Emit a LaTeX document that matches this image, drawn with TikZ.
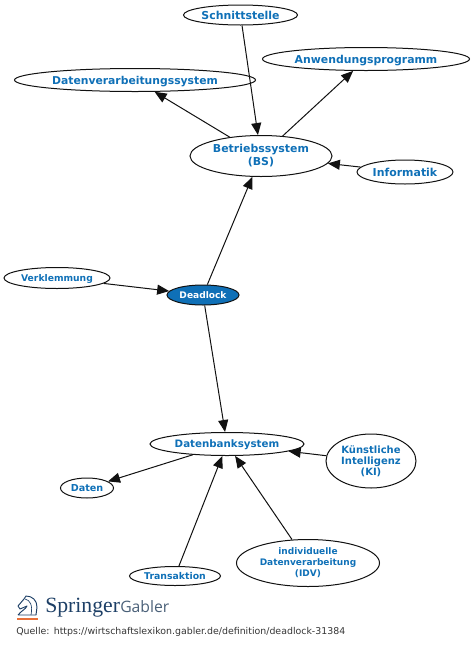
\documentclass[tikz,border=0pt]{standalone}
\usepackage{fontspec}
\setmainfont{DejaVu Sans}
\newfontfamily\logoserif{Liberation Serif}
\newfontfamily\logosans{Open Sans}
\usetikzlibrary{arrows.meta,shapes.geometric}
\definecolor{Ink}{HTML}{111111}
\definecolor{Term}{HTML}{0F70B7}
\definecolor{Logo}{HTML}{1D3F66}
\definecolor{LogoGrey}{HTML}{4A6078}
\definecolor{Accent}{HTML}{E8703A}
\tikzset{
  term/.style={ellipse,draw=Ink,line width=0.75pt,inner sep=0pt,align=center,
    font=\bfseries,text=Term},
  focus/.style={term,fill=Term,text=white},
  link/.style={-{Stealth[inset=0pt,length=9pt,width=7.5pt]},draw=Ink,line width=0.75pt}
}
\begin{document}
\begin{tikzpicture}[x=0.75pt,y=-0.75pt]
  \useasboundingbox (0,0) rectangle (474,647);
  \foreach \name/\x/\y/\w/\h/\size/\txt in {
    schnitt/240.5/15/114/20/8.2/{Schnittstelle},
    anwend/366/59/207/23/8.15/{Anwendungsprogramm},
    dvsys/135/80/241/23/8.1/{Datenverarbeitungssystem},
    info/405/172/96/24/8.2/{Informatik},
    verkl/57/278/106/21/6.9/{Verklemmung},
    dbs/227/444/154/23/7.7/{Datenbanksystem},
    daten/87/488/53/20/7.2/{Daten},
    trans/175/576/91/19/7/{Transaktion}}{
    \node[term,text depth=0pt,minimum width=\w*0.75pt,minimum height=\h*0.75pt,
      font=\fontsize{\size}{10}\selectfont\bfseries] (\name) at (\x,\y) {\txt};
  }
  \foreach \name/\x/\y/\w/\h/\size/\lead/\txt in {
    bs/261/156/142/41/8.2/9.75/{Betriebssystem\\(BS)},
    ki/371/461/90/54/7.5/8.25/{Künstliche\\Intelligenz\\(KI)},
    idv/308/563/143/47/6.75/8.25/{individuelle\\Datenverarbeitung\\(IDV)}}{
    \node[term,minimum width=\w*0.75pt,minimum height=\h*0.75pt,
      font=\fontsize{\size}{\lead}\selectfont\bfseries] (\name) at (\x,\y) {\txt};
  }
  \node[focus,minimum width=54pt,minimum height=15pt,
    font=\fontsize{6.8}{8}\selectfont\bfseries] (deadlock) at (203,295) {Deadlock};
  \foreach \from/\to in {schnitt/bs,bs/dvsys,bs/anwend,info/bs,deadlock/bs,verkl/deadlock,
    deadlock/dbs,dbs/daten,ki/dbs,trans/dbs,idv/dbs}{
    \draw[link] (\from) -- (\to);
  }
  % logo
  \fill[Accent] (17,618) rectangle (38,620);
  \draw[Logo,line width=0.7pt,line join=round] (18,615) -- (36,615) -- (37,607)
    .. controls (37,600) and (32,596) .. (26,596) -- (24,599) -- (18,606) -- (20,609)
    -- (27,606) .. controls (26,609) and (21,611) .. (18,615);
  \draw[Logo,line width=0.5pt] (25,599) .. controls (30,600) and (33,605) .. (31,615);
  \node[anchor=base west,inner sep=0pt,text=Logo,font=\logoserif\fontsize{16.3}{18}\selectfont]
    (springer) at (45,612) {Springer};
  \node[anchor=base west,inner sep=0pt,text=LogoGrey,font=\logosans\fontsize{11.8}{15}\selectfont]
    (gabler) at (120,612) {Gabler};
  \node[anchor=base west,inner sep=0pt,text=Ink!85,font=\fontsize{7.05}{9}\selectfont]
    (quelle) at (16,634) {Quelle:\hspace{0.45em}https://wirtschaftslexikon.gabler.de/definition/deadlock-31384};
\end{tikzpicture}
\end{document}
